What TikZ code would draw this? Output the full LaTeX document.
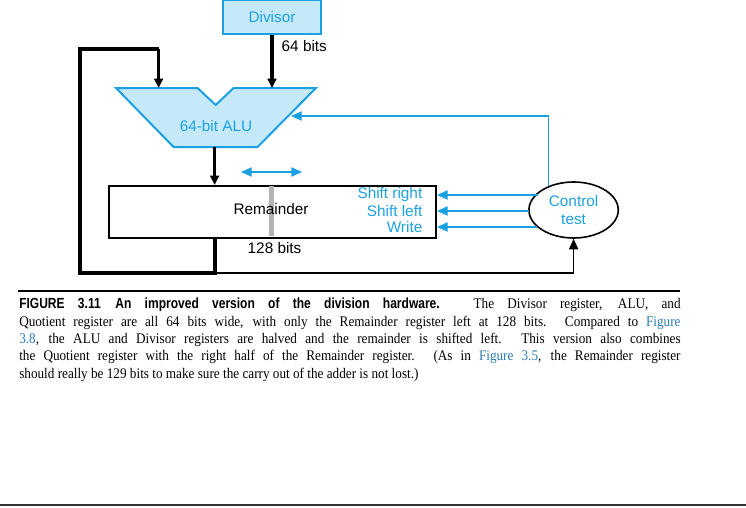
\documentclass[tikz,border=0pt]{standalone}
\usepackage{fontspec}
\setmainfont{Liberation Serif}[FakeStretch=0.9]
\setsansfont{Liberation Sans}
\newfontfamily\capsf{Liberation Sans}[FakeStretch=0.82]
\usetikzlibrary{arrows.meta,shapes.geometric}
\definecolor{cblue}{HTML}{1BA1E2}
\definecolor{cfill}{HTML}{C6E9F9}
\definecolor{clink}{HTML}{2B7BB5}
\tikzset{
  thick arrow/.style={line width=2.4pt,-{Triangle[length=7pt,width=6.5pt]}},
  blue arrow/.style={cblue,line width=0.8pt,-{Triangle[length=8pt,width=7pt]}},
  lbl/.style={font=\sffamily\fontsize{11.5}{13}\selectfont},
  blbl/.style={lbl,text=cblue},
}
\begin{document}
\begin{tikzpicture}[x=0.75pt,y=-0.75pt]
\useasboundingbox (0,0) rectangle (746,507);
% Divisor
\node[draw=cblue,fill=cfill,line width=1.5pt,minimum width=74pt,minimum height=25pt,blbl] (div) at (272,17) {Divisor};
% ALU
\path[draw=cblue,fill=cfill,line width=1.5pt] (116,88) -- (197.5,88) -- (215.7,105) -- (233.6,88) -- (316,88) -- (257.5,147) -- (173.6,147) -- cycle;
\node[blbl] (alu) at (216,126) {64-bit ALU};
\coordinate (aluin1) at (158.6,88);
\coordinate (aluin2) at (272,88);
\coordinate (aluout) at (214.6,147);
\coordinate (aluctl) at (291,116);
% Remainder
\node[draw,line width=1.6pt,minimum width=245pt,minimum height=39pt,anchor=north west,inner sep=0pt] (rem) at (108,185) {};
\fill[gray!60] (268.5,186) rectangle (273.5,236);
\node[lbl] at (271,209) {Rem\rlap{a}\phantom{a}inder};
\node[lbl,anchor=west] (b128) at (243,248) {128 bits};
\node[lbl,anchor=west] (b64) at (277,46) {64 bits};
\node[blbl,anchor=east] (sr) at (427,195) {Shift right};
\node[blbl,anchor=east] (sl) at (427,211) {Shift left};
\node[blbl,anchor=east] (wr) at (427,227) {Write};
\draw[cblue,line width=0.8pt,{Triangle[length=8pt,width=7pt]}-{Triangle[length=8pt,width=7pt]}] (241,172) coordinate (da) -- (302,172) coordinate (db);
% Control
\node[draw,line width=1.2pt,ellipse,minimum width=67pt,minimum height=42pt,lbl,text=cblue,align=center,inner sep=0pt] (ctl) at (573.6,210) {Control\\test};
% arrows
\draw[thick arrow] (div.south) -- (aluin2);
\coordinate (l1) at (158.6,49);
\coordinate (l2) at (80,49);
\coordinate (l3) at (80,273);
\coordinate (l4) at (215,273);
\draw[line width=2.4pt] (rem.south west -| l4) -- (l4) -- (l3) -- (l2) -- (l1);
\draw[thick arrow] (l1) -- (aluin1);
\draw[thick arrow] (aluout) -- (aluout |- rem.north);
\draw[line width=0.8pt,-{Triangle[length=8pt,width=7pt]}] (l4) -- (l4 -| ctl.south) -- (ctl.south);
\draw[blue arrow] (ctl.west |- sr) ++(10,0) -- (437,195);
\draw[blue arrow] (ctl.west |- sl) ++(1,0) -- (437,211);
\draw[blue arrow] (ctl.west |- wr) ++(9,0) -- (437,227);
\draw[blue arrow] (548.6,186) -- (548.6,116) -- (aluctl);
% caption
\draw[line width=0.8pt] (18,291) coordinate (r1) -- (680,291) coordinate (r2);
\node[anchor=north west,inner sep=0pt,text width=496pt,align=justify,font=\fontsize{11}{13}\selectfont] (cap) at (19,298)
{{\capsf\bfseries FIGURE 3.11\hspace{1em}An improved version of the division hardware.} The Divisor register, ALU, and\linebreak Quotient register are all 64 bits wide, with only the Remainder register left at 128 bits. Compared to \textcolor{clink}{Figure}\linebreak \textcolor{clink}{3.8}, the ALU and Divisor registers are halved and the remainder is shifted left. This version also combines\linebreak the Quotient register with the right half of the Remainder register. (As in \textcolor{clink}{Figure 3.5}, the Remainder register\linebreak should really be 129 bits to make sure the carry out of the adder is not lost.)};
\draw[line width=2pt,black!80] (0,505) coordinate (b1) -- (746,505) coordinate (b2);
\end{tikzpicture}
\end{document}
